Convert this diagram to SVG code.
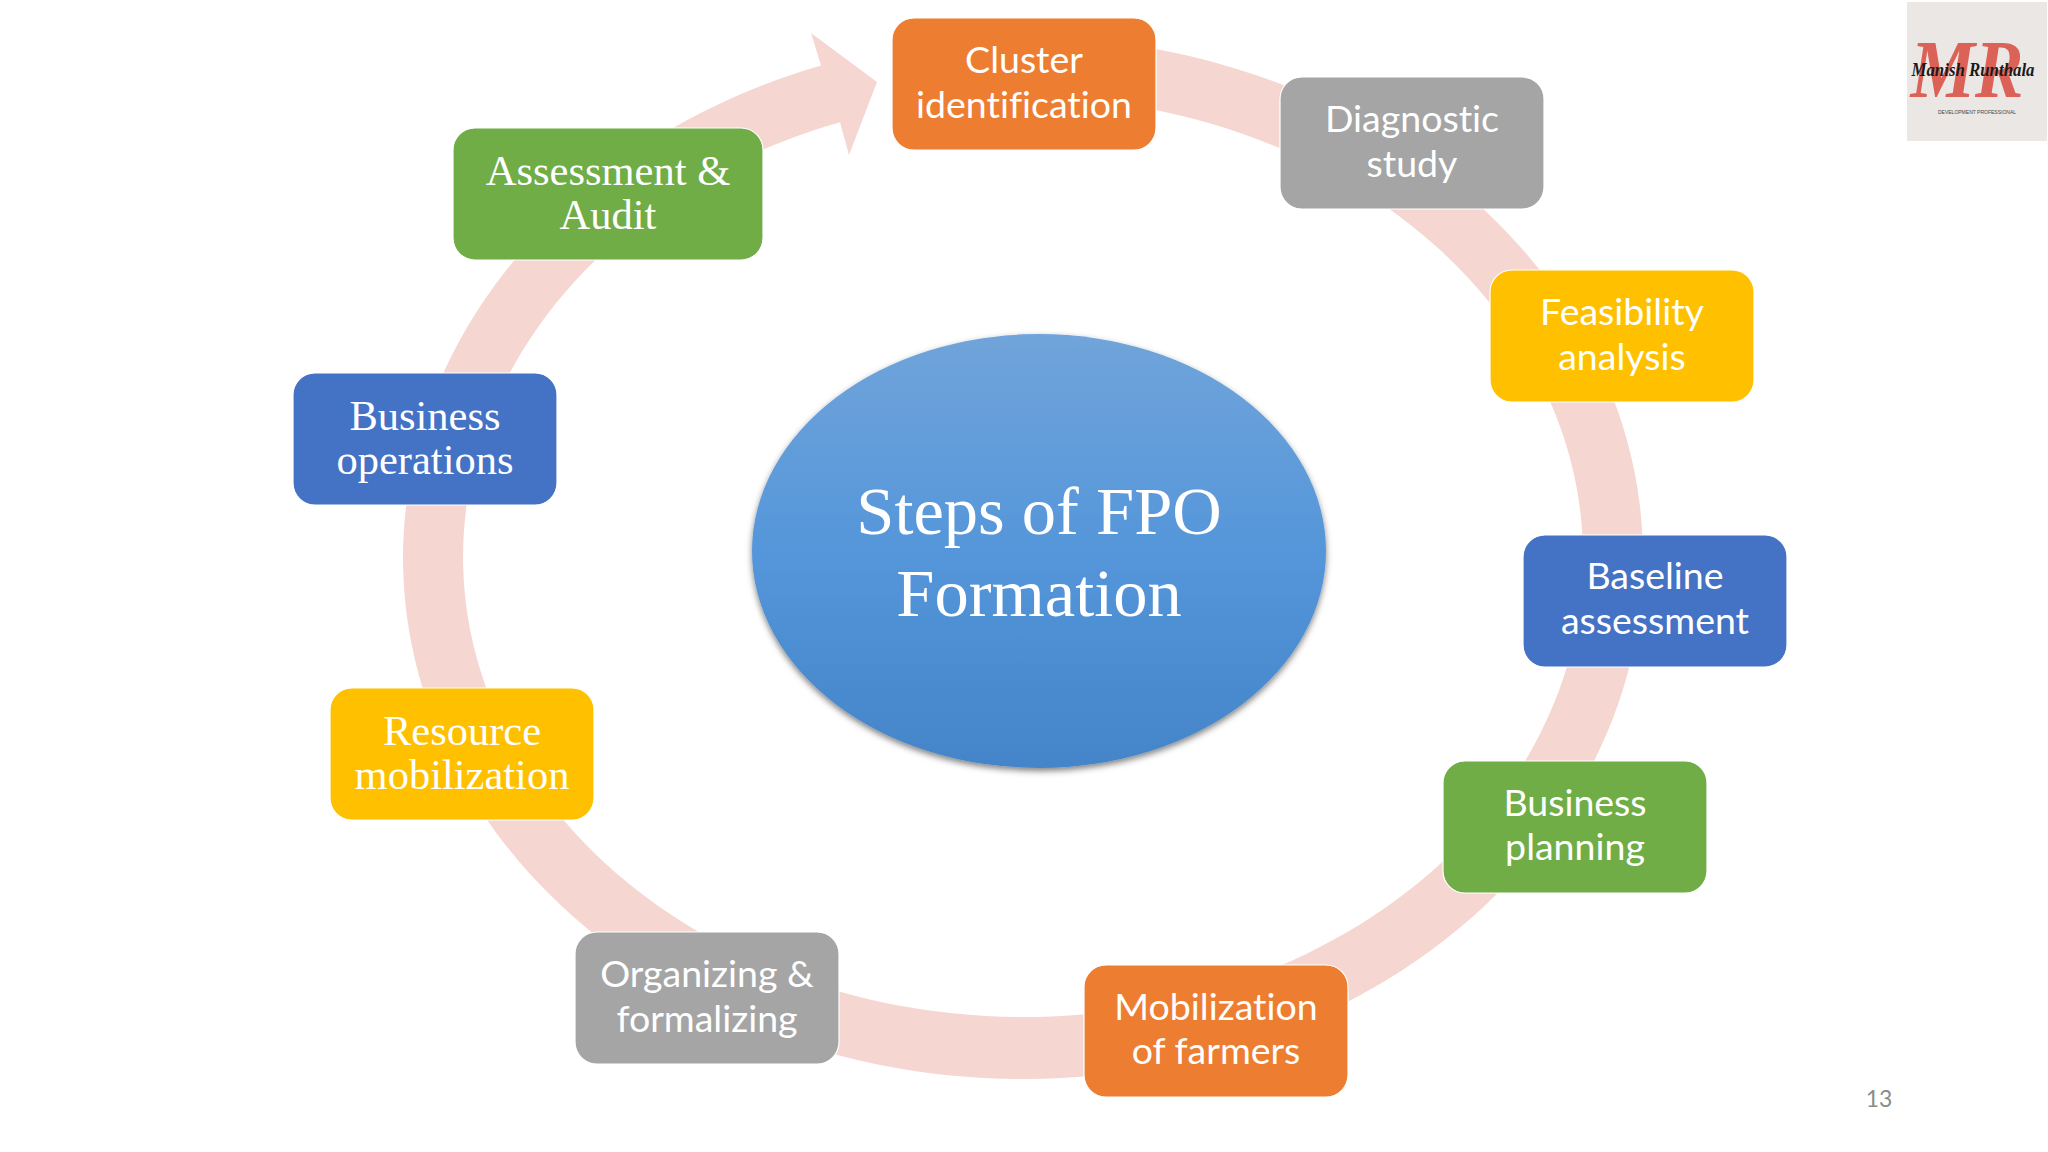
<svg xmlns="http://www.w3.org/2000/svg" width="2048" height="1152" viewBox="0 0 2048 1152">
<style>
.n{stroke:#fff;stroke-width:1.2}
.c{font-family:"Lato","Liberation Sans",sans-serif;font-size:37.5px;fill:#fff;text-anchor:middle;font-variant-ligatures:none}
.t{font-family:"Liberation Serif",serif;font-size:42.5px;fill:#fff;text-anchor:middle}
</style>
<defs>
<linearGradient id="g" x1="0" y1="0" x2="0" y2="1"><stop offset="0" stop-color="#70A4DA"/><stop offset=".5" stop-color="#5596DA"/><stop offset="1" stop-color="#4484C8"/></linearGradient>
<filter id="s" x="-10%" y="-10%" width="120%" height="120%"><feDropShadow dx="0" dy="3" stdDeviation="3" flood-color="#000" flood-opacity=".5"/></filter>
</defs>
<rect width="2048" height="1152" fill="#fff"/>
<g id="connectors"><path fill="#F6D6D0" d="M1150 48.04A620 521 0 1 1 821 65.43L811 33L877 82L849 155L840 122.3A560 460 0 1 0 1150 109Z"/></g>
<g id="center"><ellipse cx="1039" cy="551" rx="287" ry="217" fill="url(#g)" filter="url(#s)"/>
<text font-family="Liberation Serif, serif" font-size="68.5" fill="#fff" text-anchor="middle"><tspan x="1039" y="534">Steps of FPO</tspan><tspan x="1039" y="616">Formation</tspan></text></g>
<g id="n1"><rect class="n" x="892" y="18" width="264" height="132" rx="22" fill="#ED7D31"/><text class="c"><tspan x="1024" y="73">Cluster</tspan><tspan x="1024" y="118">identification</tspan></text></g>
<g id="n2"><rect class="n" x="1280" y="77" width="264" height="132" rx="22" fill="#A5A5A5"/><text class="c"><tspan x="1412" y="132">Diagnostic</tspan><tspan x="1412" y="177">study</tspan></text></g>
<g id="n3"><rect class="n" x="1490" y="270" width="264" height="132" rx="22" fill="#FFC000"/><text class="c"><tspan x="1622" y="325">Feasibility</tspan><tspan x="1622" y="370">analysis</tspan></text></g>
<g id="n4"><rect class="n" x="1523" y="535" width="264" height="132" rx="22" fill="#4472C4"/><text class="c"><tspan x="1655" y="589">Baseline</tspan><tspan x="1655" y="634">assessment</tspan></text></g>
<g id="n5"><rect class="n" x="1443" y="761" width="264" height="132" rx="22" fill="#70AD47"/><text class="c"><tspan x="1575" y="816">Business</tspan><tspan x="1575" y="860">planning</tspan></text></g>
<g id="n6"><rect class="n" x="1084" y="965" width="264" height="132" rx="22" fill="#ED7D31"/><text class="c"><tspan x="1216" y="1020">Mobilization</tspan><tspan x="1216" y="1064">of farmers</tspan></text></g>
<g id="n7"><rect class="n" x="575" y="932" width="264" height="132" rx="22" fill="#A5A5A5"/><text class="c"><tspan x="707" y="987">Organizing &amp;</tspan><tspan x="707" y="1032">formalizing</tspan></text></g>
<g id="n8"><rect class="n" x="330" y="688" width="264" height="132" rx="22" fill="#FFC000"/><text class="t"><tspan x="462" y="745">Resource</tspan><tspan x="462" y="789">mobilization</tspan></text></g>
<g id="n9"><rect class="n" x="293" y="373" width="264" height="132" rx="22" fill="#4472C4"/><text class="t"><tspan x="425" y="430">Business</tspan><tspan x="425" y="474">operations</tspan></text></g>
<g id="n10"><rect class="n" x="453" y="128" width="310" height="132" rx="22" fill="#70AD47"/><text class="t"><tspan x="608" y="185">Assessment &amp;</tspan><tspan x="608" y="229">Audit</tspan></text></g>
<g id="logo"><rect x="1907" y="2" width="140" height="139" fill="#EBE7E5"/>
<text x="1967" y="97" font-family="Liberation Serif, serif" font-style="italic" font-weight="bold" font-size="82" fill="#DC6156" text-anchor="middle" textLength="113" lengthAdjust="spacingAndGlyphs">MR</text>
<text x="1973" y="76" font-family="Liberation Serif, serif" font-style="italic" font-weight="bold" font-size="18" fill="#1a1a1a" text-anchor="middle" textLength="123" lengthAdjust="spacingAndGlyphs">Manish Runthala</text>
<text x="1977" y="114" font-family="Liberation Sans, sans-serif" font-size="4.5" fill="#444" text-anchor="middle" textLength="78" lengthAdjust="spacingAndGlyphs">DEVELOPMENT PROFESSIONAL</text></g>
<text x="1879" y="1107" font-family="Lato, Liberation Sans, sans-serif" font-size="23" fill="#8B8B8B" text-anchor="middle">13</text>
</svg>
